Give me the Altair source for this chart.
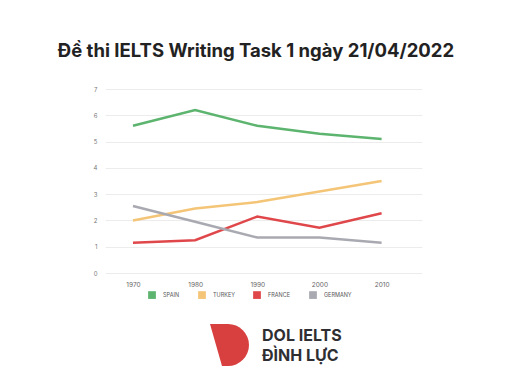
import altair as alt
import pandas as pd

years = [1970, 1980, 1990, 2000, 2010]
spain = [5.6, 6.2, 5.6, 5.3, 5.1]
turkey = [2.0, 2.45, 2.7, 3.1, 3.5]
france = [1.15, 1.25, 2.15, 1.72, 2.27]
germany = [2.55, 1.95, 1.35, 1.35, 1.15]
series_names = ["SPAIN", "TURKEY", "FRANCE", "GERMANY"]
series_colors = ["#5cb46e", "#f4c577", "#e0474a", "#a9a9b1"]

rows = []
for name, vals in zip(series_names, [spain, turkey, france, germany]):
    for yr, v in zip(years, vals):
        rows.append({"year": yr, "value": v, "country": name})
df = pd.DataFrame(rows)

lines = alt.Chart(df).mark_line(strokeWidth=2.5).encode(
    x=alt.X("year:Q", scale=alt.Scale(domain=[1965.5, 2016.5], nice=False, zero=False),
            axis=alt.Axis(values=years, format="d", title=None, grid=False, domain=False,
                          ticks=False, labelFontSize=6.5, labelColor="#666", labelPadding=8,
                          labelFont="Inter")),
    y=alt.Y("value:Q", scale=alt.Scale(domain=[0, 7], nice=False),
            axis=alt.Axis(values=list(range(8)), title=None, domain=False, ticks=False,
                          gridColor="#ececec", labelFontSize=6, labelColor="#777",
                          labelPadding=8, labelFont="Inter")),
    color=alt.Color("country:N", sort=series_names,
                    scale=alt.Scale(domain=series_names, range=series_colors),
                    legend=alt.Legend(orient="none", legendX=43, legendY=202, direction="horizontal",
                                      title=None, symbolType="square", symbolSize=14,
                                      symbolStrokeWidth=4, labelFontSize=5.5, labelColor="#555",
                                      labelFont="Inter", columnPadding=12, labelOffset=7)),
)

title = alt.Chart(pd.DataFrame({"t": ["Đề thi IELTS Writing Task 1 ngày 21/04/2022"]})).mark_text(
    font="Inter", fontSize=18.5, fontWeight="bold", color="#222222", align="center", baseline="middle"
).encode(text="t:N", x=alt.value(151), y=alt.value(-38))

logo_text = alt.Chart(pd.DataFrame({"t": ["DOL IELTS", "ĐÌNH LỰC"], "yy": [247, 267]})).mark_text(
    font="Inter", fontSize=16, fontWeight="bold", color="#2f2f33", align="left", baseline="middle"
).encode(text="t:N", x=alt.value(157), y=alt.Y("yy:Q", scale=None))

logo_arc = alt.Chart(pd.DataFrame({"a": [1]})).mark_arc(
    color="#d8403f", radius=21, theta=0, theta2=3.1416
).encode(x=alt.value(123), y=alt.value(256))

logo_tri = alt.Chart(pd.DataFrame({"yy": [235, 277], "xa": [105, 117], "xb": [124, 124]})).mark_area(
    color="#d8403f", orient="horizontal"
).encode(y=alt.Y("yy:Q", scale=None), x=alt.X("xa:Q", scale=None), x2="xb:Q")

chart = alt.layer(lines, title, logo_text, logo_arc, logo_tri).properties(
    width=317, height=184, autosize="none",
    padding={"left": 97, "top": 81, "right": 82, "bottom": 103},
).configure_view(stroke=None).resolve_scale(y="independent", x="independent")

chart.save("out.html", embed_options={"renderer": "svg", "actions": False})
